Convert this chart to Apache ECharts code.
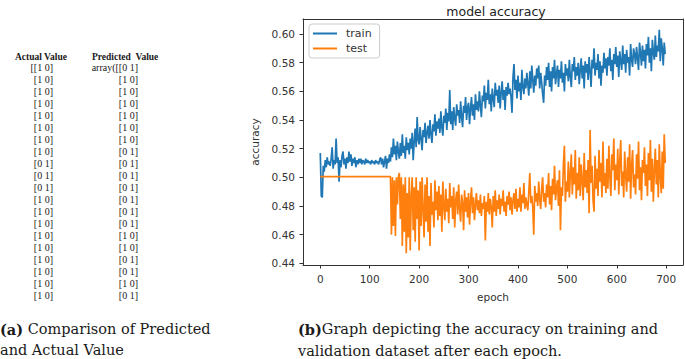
<!DOCTYPE html>
<html><head><meta charset="utf-8">
<script src="https://cdn.jsdelivr.net/npm/echarts@6/dist/echarts.min.js"></script>
<style>html,body{margin:0;padding:0;background:#fff}#c{width:685px;height:359px}</style>
</head><body><div id="c"></div>
<script>
const epochStep = 2;
const seriesNames = ['train', 'test'];
const trainAcc = [
0.517,0.487,0.486,0.508,0.504,0.512,0.507,0.514,0.509,0.511,
0.508,0.513,0.521,0.506,0.512,0.509,0.527,0.510,0.514,0.497,
0.512,0.507,0.515,0.518,0.509,0.513,0.506,0.514,0.510,0.518,
0.511,0.516,0.508,0.513,0.510,0.514,0.507,0.512,0.509,0.513,
0.510,0.513,0.509,0.512,0.511,0.509,0.513,0.510,0.512,0.510,
0.511,0.509,0.512,0.510,0.511,0.509,0.512,0.510,0.511,0.509,
0.512,0.514,0.509,0.513,0.507,0.511,0.515,0.506,0.513,0.510,
0.516,0.511,0.521,0.514,0.527,0.516,0.522,0.512,0.525,0.518,
0.513,0.524,0.515,0.530,0.517,0.522,0.513,0.528,0.519,0.524,
0.516,0.527,0.520,0.531,0.512,0.525,0.534,0.521,0.542,0.526,
0.523,0.535,0.527,0.519,0.533,0.528,0.538,0.524,0.531,0.536,
0.527,0.540,0.530,0.524,0.537,0.532,0.544,0.529,0.539,0.534,
0.541,0.531,0.546,0.535,0.529,0.543,0.538,0.548,0.533,0.545,
0.539,0.561,0.537,0.546,0.533,0.549,0.541,0.536,0.551,0.543,
0.547,0.538,0.553,0.542,0.535,0.550,0.545,0.556,0.540,0.549,
0.552,0.537,0.548,0.556,0.543,0.551,0.540,0.558,0.547,0.553,
0.546,0.560,0.550,0.542,0.557,0.553,0.564,0.548,0.559,0.554,
0.568,0.551,0.558,0.546,0.562,0.555,0.549,0.566,0.557,0.561,
0.552,0.564,0.548,0.559,0.567,0.554,0.561,0.547,0.563,0.557,
0.566,0.558,0.562,0.556,0.545,0.570,0.579,0.561,0.568,0.555,
0.571,0.560,0.566,0.554,0.575,0.563,0.558,0.569,0.562,0.573,
0.565,0.557,0.574,0.562,0.578,0.568,0.559,0.571,0.564,0.576,
0.569,0.578,0.562,0.573,0.566,0.558,0.552,0.571,0.564,0.577,
0.568,0.580,0.563,0.574,0.560,0.577,0.569,0.582,0.565,0.572,
0.578,0.563,0.575,0.569,0.581,0.566,0.573,0.560,0.579,0.571,
0.576,0.567,0.582,0.570,0.563,0.579,0.574,0.584,0.568,0.577,
0.571,0.580,0.565,0.575,0.583,0.569,0.578,0.562,0.581,0.573,
0.579,0.568,0.584,0.574,0.563,0.582,0.576,0.590,0.571,0.580,
0.575,0.586,0.569,0.581,0.564,0.578,0.573,0.587,0.576,0.583,
0.571,0.584,0.578,0.590,0.574,0.582,0.568,0.586,0.579,0.591,
0.577,0.585,0.570,0.588,0.581,0.575,0.592,0.579,0.586,0.573,
0.589,0.580,0.584,0.571,0.593,0.582,0.577,0.590,0.586,0.579,
0.591,0.583,0.575,0.594,0.587,0.578,0.592,0.581,0.589,0.576,
0.593,0.585,0.598,0.580,0.590,0.574,0.596,0.587,0.582,0.599,
0.584,0.592,0.588,0.603,0.581,0.597,0.590,0.578,0.594,0.586
];
const testAcc = [
0.5005,0.5005,0.5005,0.5005,0.5005,0.5005,0.5005,0.5005,0.5005,0.5005,
0.5005,0.5005,0.5005,0.5005,0.5005,0.5005,0.5005,0.5005,0.5005,0.5005,
0.5005,0.5005,0.5005,0.5005,0.5005,0.5005,0.5005,0.5005,0.5005,0.5005,
0.5005,0.5005,0.5005,0.5005,0.5005,0.5005,0.5005,0.5005,0.5005,0.5005,
0.5005,0.5005,0.5005,0.5005,0.5005,0.5005,0.5005,0.5005,0.5005,0.5005,
0.5005,0.5005,0.5005,0.5005,0.5005,0.5005,0.5005,0.5005,0.5005,0.5005,
0.5005,0.5005,0.5005,0.5005,0.5005,0.5005,0.5005,0.5005,0.5005,0.5005,
0.5005,0.5005,0.460,0.500,0.466,0.498,0.459,0.500,0.481,0.500,
0.503,0.471,0.500,0.452,0.495,0.462,0.500,0.447,0.489,0.458,
0.500,0.449,0.486,0.500,0.463,0.493,0.455,0.500,0.471,0.491,
0.449,0.497,0.466,0.500,0.478,0.458,0.495,0.469,0.500,0.462,
0.487,0.452,0.496,0.474,0.483,0.465,0.498,0.477,0.490,0.470,
0.494,0.473,0.488,0.462,0.497,0.480,0.470,0.492,0.476,0.485,
0.468,0.496,0.479,0.487,0.471,0.493,0.465,0.484,0.490,0.474,
0.495,0.478,0.469,0.488,0.482,0.463,0.491,0.476,0.486,0.472,
0.489,0.467,0.483,0.493,0.475,0.486,0.470,0.481,0.489,0.477,
0.484,0.475,0.488,0.473,0.482,0.478,0.487,0.456,0.483,0.476,
0.489,0.474,0.485,0.479,0.465,0.487,0.476,0.491,0.473,0.484,
0.478,0.488,0.474,0.485,0.480,0.491,0.476,0.483,0.473,0.487,
0.481,0.490,0.477,0.486,0.474,0.484,0.489,0.478,0.492,0.476,
0.485,0.479,0.493,0.476,0.488,0.482,0.496,0.478,0.486,0.481,
0.477,0.490,0.503,0.482,0.487,0.479,0.460,0.494,0.483,0.489,
0.480,0.497,0.485,0.478,0.492,0.500,0.483,0.489,0.479,0.495,
0.486,0.503,0.481,0.494,0.477,0.499,0.488,0.508,0.484,0.492,
0.498,0.480,0.505,0.463,0.493,0.487,0.509,0.522,0.483,0.497,
0.490,0.511,0.486,0.502,0.516,0.488,0.507,0.495,0.519,0.485,
0.503,0.491,0.514,0.487,0.509,0.498,0.484,0.517,0.493,0.505,
0.489,0.512,0.475,0.533,0.496,0.508,0.484,0.476,0.515,0.492,
0.506,0.487,0.519,0.497,0.510,0.486,0.525,0.494,0.503,0.489,
0.513,0.492,0.522,0.500,0.487,0.516,0.505,0.527,0.491,0.509,
0.498,0.520,0.488,0.511,0.526,0.494,0.504,0.486,0.518,0.501,
0.490,0.514,0.497,0.523,0.485,0.508,0.519,0.493,0.502,0.488,
0.516,0.499,0.525,0.491,0.507,0.484,0.512,0.503,0.521,0.494,
0.509,0.487,0.517,0.498,0.526,0.490,0.513,0.483,0.505,0.520,
0.495,0.512,0.486,0.523,0.501,0.489,0.518,0.492,0.530,0.510
];
const xTicks = [0, 100, 200, 300, 400, 500, 600, 700];
const yTicks = [0.44, 0.46, 0.48, 0.50, 0.52, 0.54, 0.56, 0.58, 0.60];
const chartTitle = 'model accuracy';
const xName = 'epoch';
const yName = 'accuracy';
const tableHeaders = ['Actual Value', 'Predicted  Value'];
const actualValues = ['[[1 0]','[1 0]','[1 0]','[1 0]','[1 0]','[1 0]','[1 0]','[1 0]','[0 1]','[0 1]',
  '[0 1]','[1 0]','[1 0]','[1 0]','[1 0]','[1 0]','[1 0]','[1 0]','[1 0]','[1 0]'];
const predictedValues = ['array([[0 1]','[1 0]','[1 0]','[1 0]','[1 0]','[1 0]','[1 0]','[0 1]','[0 1]','[0 1]',
  '[0 1]','[0 1]','[0 1]','[0 1]','[1 0]','[1 0]','[0 1]','[0 1]','[1 0]','[0 1]'];
const captionA = ['(a)', ' Comparison of Predicted', 'and Actual Value'];
const captionB = ['(b)', 'Graph depicting the accuracy on training and', 'validation dataset after each epoch.'];

const chart = echarts.init(document.getElementById('c'), null, {renderer: 'svg'});
const axisColor = '#333';
const sans = 'DejaVu Sans';
const serif = 'Liberation Serif';
const capFont = 'DejaVu Serif';

const graphics = [];
graphics.push({type: 'text', x: 15, y: 57, style: {text: tableHeaders[0], fontFamily: serif, fontWeight: 'bold', fontSize: 9.5, fill: '#1a1a1a', verticalAlign: 'middle'}});
graphics.push({type: 'text', x: 92, y: 57, style: {text: tableHeaders[1], fontFamily: serif, fontWeight: 'bold', fontSize: 9.5, fill: '#1a1a1a', verticalAlign: 'middle'}});
actualValues.forEach((t, i) => {
  graphics.push({type: 'text', x: 53, y: 67 + i * 12.05, style: {text: t, fontFamily: serif, fontSize: 10, fill: '#1a1a1a', align: 'right', verticalAlign: 'middle'}});
});
predictedValues.forEach((t, i) => {
  graphics.push({type: 'text', x: 138, y: 67 + i * 12.05, style: {text: t, fontFamily: serif, fontSize: 10, fill: '#1a1a1a', align: 'right', verticalAlign: 'middle'}});
});
const capRich = {b: {fontFamily: capFont, fontWeight: 'bold', fontSize: 14.5, fill: '#1a1a1a'}, n: {fontFamily: capFont, fontSize: 14.5, fill: '#1a1a1a'}};
graphics.push({type: 'text', x: 0, y: 329, style: {text: '{b|' + captionA[0] + '}{n|' + captionA[1] + '}', rich: capRich, verticalAlign: 'middle'}});
graphics.push({type: 'text', x: 0, y: 350, style: {text: '{n|' + captionA[2] + '}', rich: capRich, verticalAlign: 'middle'}});
graphics.push({type: 'text', x: 298, y: 329, style: {text: '{b|' + captionB[0] + '}{n|' + captionB[1] + '}', rich: capRich, verticalAlign: 'middle'}});
graphics.push({type: 'text', x: 298, y: 351, style: {text: '{n|' + captionB[2] + '}', rich: capRich, verticalAlign: 'middle'}});

const frameAxis = {axisLine: {show: true, onZero: false, lineStyle: {color: axisColor}}, axisTick: {show: false}, axisLabel: {show: false}, splitLine: {show: false}};

const option = {
  animation: false,
  backgroundColor: '#fff',
  title: {text: chartTitle, left: 491, top: 0, textAlign: 'center', textStyle: {fontFamily: sans, fontSize: 12.5, fontWeight: 'normal', color: '#222'}},
  legend: {
    data: seriesNames, left: 309, top: 24, orient: 'vertical', icon: 'rect', itemWidth: 24, itemHeight: 2, itemGap: 4,
    padding: [4, 8, 4, 4], backgroundColor: 'rgba(255,255,255,0.8)', borderColor: '#ccc', borderWidth: 1, borderRadius: 3,
    textStyle: {fontFamily: sans, fontSize: 11, color: '#333', padding: [0, 0, 0, 4]}
  },
  grid: {left: 303, top: 19, right: 2, bottom: 94},
  xAxis: [{
    type: 'value', min: -35, max: 734, position: 'bottom',
    name: xName, nameLocation: 'middle', nameGap: 26, nameTextStyle: {fontFamily: sans, fontSize: 10.5, color: '#333'},
    axisLine: {show: true, onZero: false, lineStyle: {color: axisColor}},
    axisTick: {show: true, customValues: xTicks, length: 3.5, lineStyle: {color: axisColor}},
    axisLabel: {customValues: xTicks, margin: 8, fontFamily: sans, fontSize: 10.5, color: '#333'},
    splitLine: {show: false}
  }, Object.assign({type: 'value', min: -35, max: 734, position: 'top'}, frameAxis)],
  yAxis: [{
    type: 'value', min: 0.4388, max: 0.6105, position: 'left',
    name: yName, nameLocation: 'middle', nameGap: 33, nameRotate: 90, nameTextStyle: {fontFamily: sans, fontSize: 10.5, color: '#333'},
    axisLine: {show: true, onZero: false, lineStyle: {color: axisColor}},
    axisTick: {show: true, customValues: yTicks, length: 3.5, lineStyle: {color: axisColor}},
    axisLabel: {customValues: yTicks, margin: 8, fontFamily: sans, fontSize: 10.5, color: '#333', formatter: v => v.toFixed(2)},
    splitLine: {show: false}
  }, Object.assign({type: 'value', min: 0.4388, max: 0.6105, position: 'right'}, frameAxis)],
  series: [
    {name: seriesNames[0], type: 'line', data: trainAcc.map((v, i) => [i * epochStep, v]), showSymbol: false, symbol: 'none',
     lineStyle: {width: 1.7, color: '#1f77b4'}, itemStyle: {color: '#1f77b4'}},
    {name: seriesNames[1], type: 'line', data: testAcc.map((v, i) => [i * epochStep, v]), showSymbol: false, symbol: 'none',
     lineStyle: {width: 1.7, color: '#ff7f0e'}, itemStyle: {color: '#ff7f0e'}}
  ],
  graphic: graphics
};
chart.setOption(option);
</script>
</body></html>
